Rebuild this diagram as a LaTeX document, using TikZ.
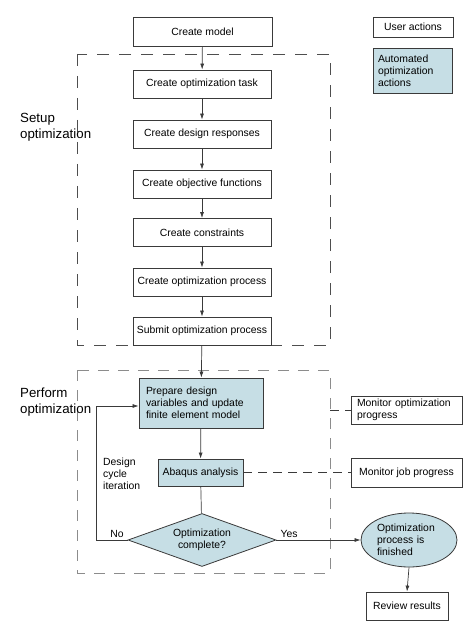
\documentclass[tikz,border=0pt]{standalone}
\usepackage{fontspec}
\setmainfont{Liberation Sans}
\usetikzlibrary{arrows.meta,shapes.geometric}
\definecolor{autoblue}{HTML}{C6DEE5}
\definecolor{edge}{HTML}{3A3A3A}
\tikzset{
  base/.style={draw=edge, line width=0.8pt, font=\fontsize{10.4}{12}\selectfont, inner sep=0pt},
  ubox/.style={base, fill=white, align=center},
  abox/.style={base, fill=autoblue},
  arr/.style={draw=edge, line width=0.7pt, -{Latex[length=6pt,width=4pt]}},
  plain/.style={draw=edge, line width=0.7pt},
  dconn/.style={draw=edge, line width=0.7pt, dash pattern=on 9pt off 6pt},
  lbl/.style={font=\fontsize{10.4}{12}\selectfont, inner sep=0pt},
  biglbl/.style={font=\fontsize{13.3}{15.5}\selectfont, inner sep=0pt, align=left},
}
\begin{document}
\begin{tikzpicture}[x=1pt,y=-1pt]
\useasboundingbox (0,0) rectangle (474,628);
% group frames
\draw[edge!90, line width=0.8pt, dash pattern=on 12pt off 10pt] (77,54) rectangle (330,345);
\draw[black!45, line width=0.7pt, dash pattern=on 11pt off 9pt] (77,370) rectangle (330,573);

% legend
\node[ubox, minimum width=80pt, minimum height=20pt] (legu) at (413,27) {User actions};
\node[abox, minimum width=79pt, minimum height=45pt, text width=69pt, align=left] (lega) at (412.5,70.5) {Automated\\optimization\\actions};

% setup steps
\node[ubox, minimum width=139pt, minimum height=29pt] (model) at (202.5,31.5) {Create model};
\node[ubox, minimum width=138pt, minimum height=28pt] (task) at (202,84) {Create optimization task};
\node[ubox, minimum width=138pt, minimum height=28pt] (resp) at (202,134) {Create design responses};
\node[ubox, minimum width=138pt, minimum height=28pt] (obj) at (202,184) {Create objective functions};
\node[ubox, minimum width=138pt, minimum height=28pt] (cons) at (202,232.5) {Create constraints};
\node[ubox, minimum width=138pt, minimum height=28pt] (proc) at (202,282) {Create optimization process};
\node[ubox, minimum width=138pt, minimum height=28pt] (sub) at (202,331) {Submit optimization process};

% perform
\node[abox, minimum width=124pt, minimum height=50pt, text width=110pt, align=left] (prep) at (201,403) {Prepare design\\variables and update\\finite element model};
\node[abox, minimum width=85pt, minimum height=27pt, align=center] (aba) at (200.5,472.5) {Abaqus analysis};
\node[abox, diamond, aspect=2.8, minimum width=148pt, minimum height=53pt, align=center] (dec) at (202,540) {Optimization\\complete?};
\node[abox, ellipse, minimum width=96pt, minimum height=54pt, text width=64pt, align=left] (fin) at (409,540) {Optimization\\process is\\finished};
\node[ubox, minimum width=82pt, minimum height=28pt] (rev) at (407,606) {Review results};
\node[ubox, minimum width=111pt, minimum height=28pt, text width=99pt, align=left] (mopt) at (406.5,410) {Monitor optimization\\progress};
\node[ubox, minimum width=111pt, minimum height=29pt] (mjob) at (406.5,472.5) {Monitor job progress};

% labels
\node[biglbl, anchor=west] (lsetup) at (20,127) {Setup\\optimization};
\node[biglbl, anchor=west] (lperf) at (20,402) {Perform\\optimization};
\node[lbl, anchor=west, align=left] (lcyc) at (103,474) {Design\\cycle\\iteration};
\node[lbl] (lno) at (117,534) {No};
\node[lbl] (lyes) at (289,534) {Yes};

% connectors
\draw[arr] (model) -- (task);
\draw[arr] (task) -- (resp);
\draw[arr] (resp) -- (obj);
\draw[arr] (obj) -- (cons);
\draw[arr] (cons) -- (proc);
\draw[arr] (proc) -- (sub);
\draw[arr] (sub) -- (prep);
\draw[arr] (prep) -- (aba);
\draw[plain] (aba) -- (dec);
\coordinate (loopx) at (96,540);
\coordinate (loopt) at (96,406);
\draw[arr] (dec.west) -- (loopx) -- (loopt) -- (loopt -| prep.west);
\draw[arr] (dec.east) -- (fin.west);
\draw[arr] (fin.south) -- (rev.north);
\coordinate (frameR) at (330,410);
\draw[dconn] (frameR) -- (mopt.west);
\draw[dconn] (aba.east) -- (mjob.west);
\end{tikzpicture}
\end{document}
